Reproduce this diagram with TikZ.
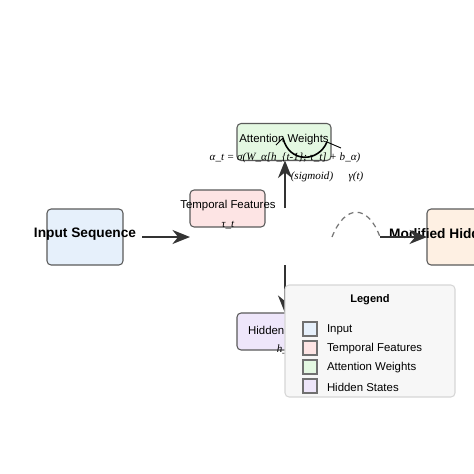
\documentclass[tikz,border=0pt]{standalone}
\usepackage{fontspec}
\setmainfont{Liberation Sans}
\newfontfamily\formfont{Liberation Serif}
\usetikzlibrary{arrows.meta}

\definecolor{inputfill}{HTML}{E6F0FB}
\definecolor{tempfill}{HTML}{FDE4E4}
\definecolor{attnfill}{HTML}{E4F8E2}
\definecolor{hidfill}{HTML}{EEE6FA}
\definecolor{modfill}{HTML}{FEF0E3}
\definecolor{legfill}{HTML}{F7F7F7}
\definecolor{legline}{HTML}{D6D6D6}
\definecolor{boxline}{HTML}{5A5A5A}
\definecolor{swline}{HTML}{707070}
\definecolor{arrowgray}{HTML}{333333}
\definecolor{dashgray}{HTML}{777777}

\begin{document}
\begin{tikzpicture}[
  x=0.02cm, y=-0.02cm,
  every node/.style={inner sep=0pt, outer sep=0pt},
  box/.style={draw=boxline, rounded corners=2.3pt, line width=0.6pt},
  bigbox/.style={box, minimum width=1.52cm, minimum height=1.12cm},
  smallbox/.style={box, minimum width=1.5cm, minimum height=0.74cm},
  midbox/.style={box, minimum width=1.88cm, minimum height=0.74cm},
  bigtext/.style={font=\fontsize{7.8}{9}\selectfont\bfseries},
  boxtext/.style={font=\fontsize{6.5}{8}\selectfont},
  formtext/.style={font=\fontsize{6.3}{8}\selectfont\formfont\itshape},
  swatch/.style={draw=swline, line width=0.6pt, minimum size=0.28cm},
  flow/.style={draw=arrowgray, line width=1.1pt, -{Stealth[length=10pt,width=8pt]}},
  >=Stealth
]
\useasboundingbox[fill=white] (0,0) rectangle (474,474);

% boxes
\node[bigbox, fill=inputfill] (inp) at (85,237) {};
\node[bigtext] (inp-t) at (85,234) {Input Sequence};

\node[smallbox, fill=tempfill] (temp) at (227.5,208.5) {};
\node[boxtext] (temp-t) at (228,206) {Temporal Features};
\node[formtext] (temp-s) at (228,225) {τ\_t};

\node[midbox, fill=attnfill] (attn) at (284,142) {};
\node[boxtext] (attn-t) at (284,140) {Attention Weights};

\node[midbox, fill=hidfill] (hid) at (284,331.5) {};
\node[boxtext] (hid-t) at (284,330) {Hidden States};
\node[formtext] (hid-s) at (284,349) {h\_t};

\node[bigbox, fill=modfill] (mod) at (465,237) {};
\node[bigtext] (mod-t) at (465,234) {Modified Hidden States};

% formula and curve
\draw[line width=0.5pt] (276,145) -- (283,138);
\draw[line width=0.9pt] (283,138) .. controls (289,163) and (318,163) .. (327,142);
\draw[line width=0.5pt] (327,142) -- (341,148);
\node[formtext] (form) at (285,158) {α\_t = σ(W\_α[h\_\{t-1\}; τ\_t] + b\_α)};
\node[formtext] (sig) at (312,177) {(sigmoid)};
\node[formtext] (gam) at (356,177) {γ(t)};

% connectors
\coordinate (in-a) at (142,237);
\coordinate (in-b) at (190,237);
\coordinate (up-a) at (285,208);
\coordinate (dn-a) at (285,265);
\coordinate (arc-a) at (332,237);
\coordinate (arc-b) at (380,237);

\draw[flow] (in-a) -- (in-b);
\draw[flow] (up-a) -- (attn.south -| up-a);
\draw[flow] (dn-a) -- (hid.north -| dn-a);
\draw[dashgray, line width=0.7pt, dash pattern=on 3pt off 2.4pt] (arc-a) .. controls (345,204) and (368,204) .. (arc-b);
\draw[flow] (arc-b) -- (mod.west);

% legend
\node[draw=legline, fill=legfill, rounded corners=2.3pt, line width=0.6pt,
      minimum width=3.4cm, minimum height=2.24cm] (leg) at (370,341) {};
\node[font=\fontsize{6.3}{8}\selectfont\bfseries] (leg-t) at (370,300) {Legend};
\node[swatch, fill=inputfill] (sw1) at (310,329) {};
\node[swatch, fill=tempfill] (sw2) at (310,348) {};
\node[swatch, fill=attnfill] (sw3) at (310,367) {};
\node[swatch, fill=hidfill] (sw4) at (310,386) {};
\node[boxtext, anchor=west] (lb1) at (327,330) {Input};
\node[boxtext, anchor=west] (lb2) at (327,349) {Temporal Features};
\node[boxtext, anchor=west] (lb3) at (327,368) {Attention Weights};
\node[boxtext, anchor=west] (lb4) at (327,387) {Hidden States};

\end{tikzpicture}
\end{document}
